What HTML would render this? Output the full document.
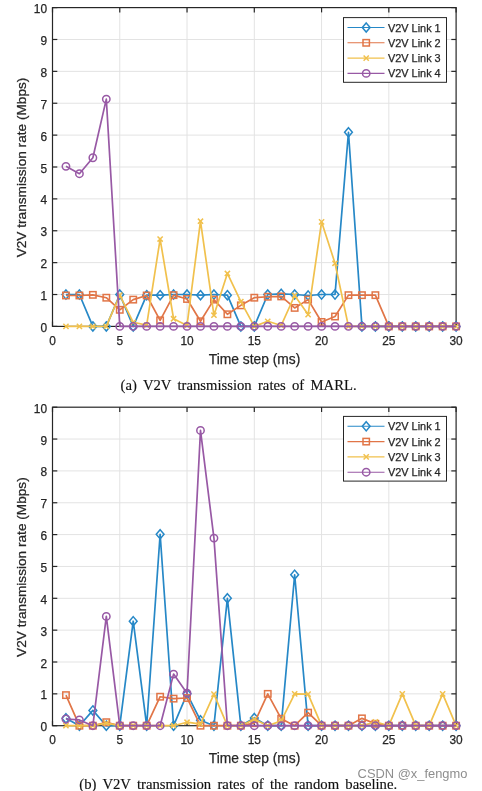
<!DOCTYPE html>
<html><head><meta charset="utf-8"><style>
html,body{margin:0;padding:0;background:#fff;width:482px;height:791px;overflow:hidden}
svg{position:absolute;left:0;top:0;filter:blur(0.3px)}
.t{font-family:"Liberation Sans",sans-serif;font-size:11.9px;fill:#262626;stroke:#262626;stroke-width:0.25px}
.lab{font-family:"Liberation Sans",sans-serif;font-size:13.8px;fill:#262626;stroke:#262626;stroke-width:0.25px}
.leg{font-family:"Liberation Sans",sans-serif;font-size:10.9px;fill:#262626;stroke:#262626;stroke-width:0.25px}
.cap{font-family:"Liberation Serif",serif;font-size:14.7px;fill:#111;stroke:#111;stroke-width:0.15px;word-spacing:2.6px}
.wm{font-family:"Liberation Sans",sans-serif;font-size:12.9px;fill:#8e8e8e;}
</style></head><body>
<svg width="482" height="791" viewBox="0 0 482 791">
<line x1="52.5" y1="294.52" x2="456.1" y2="294.52" stroke="#e3e3e3" stroke-width="1"/>
<line x1="52.5" y1="262.64" x2="456.1" y2="262.64" stroke="#e3e3e3" stroke-width="1"/>
<line x1="52.5" y1="230.76" x2="456.1" y2="230.76" stroke="#e3e3e3" stroke-width="1"/>
<line x1="52.5" y1="198.88" x2="456.1" y2="198.88" stroke="#e3e3e3" stroke-width="1"/>
<line x1="52.5" y1="167.00" x2="456.1" y2="167.00" stroke="#e3e3e3" stroke-width="1"/>
<line x1="52.5" y1="135.12" x2="456.1" y2="135.12" stroke="#e3e3e3" stroke-width="1"/>
<line x1="52.5" y1="103.24" x2="456.1" y2="103.24" stroke="#e3e3e3" stroke-width="1"/>
<line x1="52.5" y1="71.36" x2="456.1" y2="71.36" stroke="#e3e3e3" stroke-width="1"/>
<line x1="52.5" y1="39.48" x2="456.1" y2="39.48" stroke="#e3e3e3" stroke-width="1"/>
<line x1="119.77" y1="7.6" x2="119.77" y2="326.4" stroke="#e3e3e3" stroke-width="1"/>
<line x1="187.03" y1="7.6" x2="187.03" y2="326.4" stroke="#e3e3e3" stroke-width="1"/>
<line x1="254.30" y1="7.6" x2="254.30" y2="326.4" stroke="#e3e3e3" stroke-width="1"/>
<line x1="321.57" y1="7.6" x2="321.57" y2="326.4" stroke="#e3e3e3" stroke-width="1"/>
<line x1="388.83" y1="7.6" x2="388.83" y2="326.4" stroke="#e3e3e3" stroke-width="1"/>
<rect x="52.5" y="7.6" width="403.60" height="318.80" fill="none" stroke="#262626" stroke-width="1.2"/>
<line x1="52.5" y1="326.40" x2="57.3" y2="326.40" stroke="#262626" stroke-width="1.2"/>
<line x1="456.1" y1="326.40" x2="451.3" y2="326.40" stroke="#262626" stroke-width="1.2"/>
<line x1="52.5" y1="294.52" x2="57.3" y2="294.52" stroke="#262626" stroke-width="1.2"/>
<line x1="456.1" y1="294.52" x2="451.3" y2="294.52" stroke="#262626" stroke-width="1.2"/>
<line x1="52.5" y1="262.64" x2="57.3" y2="262.64" stroke="#262626" stroke-width="1.2"/>
<line x1="456.1" y1="262.64" x2="451.3" y2="262.64" stroke="#262626" stroke-width="1.2"/>
<line x1="52.5" y1="230.76" x2="57.3" y2="230.76" stroke="#262626" stroke-width="1.2"/>
<line x1="456.1" y1="230.76" x2="451.3" y2="230.76" stroke="#262626" stroke-width="1.2"/>
<line x1="52.5" y1="198.88" x2="57.3" y2="198.88" stroke="#262626" stroke-width="1.2"/>
<line x1="456.1" y1="198.88" x2="451.3" y2="198.88" stroke="#262626" stroke-width="1.2"/>
<line x1="52.5" y1="167.00" x2="57.3" y2="167.00" stroke="#262626" stroke-width="1.2"/>
<line x1="456.1" y1="167.00" x2="451.3" y2="167.00" stroke="#262626" stroke-width="1.2"/>
<line x1="52.5" y1="135.12" x2="57.3" y2="135.12" stroke="#262626" stroke-width="1.2"/>
<line x1="456.1" y1="135.12" x2="451.3" y2="135.12" stroke="#262626" stroke-width="1.2"/>
<line x1="52.5" y1="103.24" x2="57.3" y2="103.24" stroke="#262626" stroke-width="1.2"/>
<line x1="456.1" y1="103.24" x2="451.3" y2="103.24" stroke="#262626" stroke-width="1.2"/>
<line x1="52.5" y1="71.36" x2="57.3" y2="71.36" stroke="#262626" stroke-width="1.2"/>
<line x1="456.1" y1="71.36" x2="451.3" y2="71.36" stroke="#262626" stroke-width="1.2"/>
<line x1="52.5" y1="39.48" x2="57.3" y2="39.48" stroke="#262626" stroke-width="1.2"/>
<line x1="456.1" y1="39.48" x2="451.3" y2="39.48" stroke="#262626" stroke-width="1.2"/>
<line x1="52.5" y1="7.60" x2="57.3" y2="7.60" stroke="#262626" stroke-width="1.2"/>
<line x1="456.1" y1="7.60" x2="451.3" y2="7.60" stroke="#262626" stroke-width="1.2"/>
<line x1="52.50" y1="326.4" x2="52.50" y2="321.59999999999997" stroke="#262626" stroke-width="1.2"/>
<line x1="52.50" y1="7.6" x2="52.50" y2="12.399999999999999" stroke="#262626" stroke-width="1.2"/>
<line x1="119.77" y1="326.4" x2="119.77" y2="321.59999999999997" stroke="#262626" stroke-width="1.2"/>
<line x1="119.77" y1="7.6" x2="119.77" y2="12.399999999999999" stroke="#262626" stroke-width="1.2"/>
<line x1="187.03" y1="326.4" x2="187.03" y2="321.59999999999997" stroke="#262626" stroke-width="1.2"/>
<line x1="187.03" y1="7.6" x2="187.03" y2="12.399999999999999" stroke="#262626" stroke-width="1.2"/>
<line x1="254.30" y1="326.4" x2="254.30" y2="321.59999999999997" stroke="#262626" stroke-width="1.2"/>
<line x1="254.30" y1="7.6" x2="254.30" y2="12.399999999999999" stroke="#262626" stroke-width="1.2"/>
<line x1="321.57" y1="326.4" x2="321.57" y2="321.59999999999997" stroke="#262626" stroke-width="1.2"/>
<line x1="321.57" y1="7.6" x2="321.57" y2="12.399999999999999" stroke="#262626" stroke-width="1.2"/>
<line x1="388.83" y1="326.4" x2="388.83" y2="321.59999999999997" stroke="#262626" stroke-width="1.2"/>
<line x1="388.83" y1="7.6" x2="388.83" y2="12.399999999999999" stroke="#262626" stroke-width="1.2"/>
<line x1="456.10" y1="326.4" x2="456.10" y2="321.59999999999997" stroke="#262626" stroke-width="1.2"/>
<line x1="456.10" y1="7.6" x2="456.10" y2="12.399999999999999" stroke="#262626" stroke-width="1.2"/>
<polyline points="65.95,294.52 79.41,294.52 92.86,326.40 106.31,326.40 119.77,294.52 133.22,326.40 146.67,295.16 160.13,295.16 173.58,294.52 187.03,294.52 200.49,295.16 213.94,294.52 227.39,295.16 240.85,326.40 254.30,326.40 267.75,294.52 281.21,293.88 294.66,294.52 308.11,295.48 321.57,294.52 335.02,294.52 348.47,132.25 361.93,326.40 375.38,326.40 388.83,326.40 402.29,326.40 415.74,326.40 429.19,326.40 442.65,326.40 456.10,326.40" fill="none" stroke="#2688C7" stroke-width="1.7" stroke-linejoin="round"/>
<path d="M65.95 289.92L69.85 294.52L65.95 299.12L62.05 294.52Z" fill="none" stroke="#2688C7" stroke-width="1.5"/>
<path d="M79.41 289.92L83.31 294.52L79.41 299.12L75.51 294.52Z" fill="none" stroke="#2688C7" stroke-width="1.5"/>
<path d="M92.86 321.80L96.76 326.40L92.86 331.00L88.96 326.40Z" fill="none" stroke="#2688C7" stroke-width="1.5"/>
<path d="M106.31 321.80L110.21 326.40L106.31 331.00L102.41 326.40Z" fill="none" stroke="#2688C7" stroke-width="1.5"/>
<path d="M119.77 289.92L123.67 294.52L119.77 299.12L115.87 294.52Z" fill="none" stroke="#2688C7" stroke-width="1.5"/>
<path d="M133.22 321.80L137.12 326.40L133.22 331.00L129.32 326.40Z" fill="none" stroke="#2688C7" stroke-width="1.5"/>
<path d="M146.67 290.56L150.57 295.16L146.67 299.76L142.77 295.16Z" fill="none" stroke="#2688C7" stroke-width="1.5"/>
<path d="M160.13 290.56L164.03 295.16L160.13 299.76L156.23 295.16Z" fill="none" stroke="#2688C7" stroke-width="1.5"/>
<path d="M173.58 289.92L177.48 294.52L173.58 299.12L169.68 294.52Z" fill="none" stroke="#2688C7" stroke-width="1.5"/>
<path d="M187.03 289.92L190.93 294.52L187.03 299.12L183.13 294.52Z" fill="none" stroke="#2688C7" stroke-width="1.5"/>
<path d="M200.49 290.56L204.39 295.16L200.49 299.76L196.59 295.16Z" fill="none" stroke="#2688C7" stroke-width="1.5"/>
<path d="M213.94 289.92L217.84 294.52L213.94 299.12L210.04 294.52Z" fill="none" stroke="#2688C7" stroke-width="1.5"/>
<path d="M227.39 290.56L231.29 295.16L227.39 299.76L223.49 295.16Z" fill="none" stroke="#2688C7" stroke-width="1.5"/>
<path d="M240.85 321.80L244.75 326.40L240.85 331.00L236.95 326.40Z" fill="none" stroke="#2688C7" stroke-width="1.5"/>
<path d="M254.30 321.80L258.20 326.40L254.30 331.00L250.40 326.40Z" fill="none" stroke="#2688C7" stroke-width="1.5"/>
<path d="M267.75 289.92L271.65 294.52L267.75 299.12L263.85 294.52Z" fill="none" stroke="#2688C7" stroke-width="1.5"/>
<path d="M281.21 289.28L285.11 293.88L281.21 298.48L277.31 293.88Z" fill="none" stroke="#2688C7" stroke-width="1.5"/>
<path d="M294.66 289.92L298.56 294.52L294.66 299.12L290.76 294.52Z" fill="none" stroke="#2688C7" stroke-width="1.5"/>
<path d="M308.11 290.88L312.01 295.48L308.11 300.08L304.21 295.48Z" fill="none" stroke="#2688C7" stroke-width="1.5"/>
<path d="M321.57 289.92L325.47 294.52L321.57 299.12L317.67 294.52Z" fill="none" stroke="#2688C7" stroke-width="1.5"/>
<path d="M335.02 289.92L338.92 294.52L335.02 299.12L331.12 294.52Z" fill="none" stroke="#2688C7" stroke-width="1.5"/>
<path d="M348.47 127.65L352.37 132.25L348.47 136.85L344.57 132.25Z" fill="none" stroke="#2688C7" stroke-width="1.5"/>
<path d="M361.93 321.80L365.83 326.40L361.93 331.00L358.03 326.40Z" fill="none" stroke="#2688C7" stroke-width="1.5"/>
<path d="M375.38 321.80L379.28 326.40L375.38 331.00L371.48 326.40Z" fill="none" stroke="#2688C7" stroke-width="1.5"/>
<path d="M388.83 321.80L392.73 326.40L388.83 331.00L384.93 326.40Z" fill="none" stroke="#2688C7" stroke-width="1.5"/>
<path d="M402.29 321.80L406.19 326.40L402.29 331.00L398.39 326.40Z" fill="none" stroke="#2688C7" stroke-width="1.5"/>
<path d="M415.74 321.80L419.64 326.40L415.74 331.00L411.84 326.40Z" fill="none" stroke="#2688C7" stroke-width="1.5"/>
<path d="M429.19 321.80L433.09 326.40L429.19 331.00L425.29 326.40Z" fill="none" stroke="#2688C7" stroke-width="1.5"/>
<path d="M442.65 321.80L446.55 326.40L442.65 331.00L438.75 326.40Z" fill="none" stroke="#2688C7" stroke-width="1.5"/>
<path d="M456.10 321.80L460.00 326.40L456.10 331.00L452.20 326.40Z" fill="none" stroke="#2688C7" stroke-width="1.5"/>
<polyline points="65.95,295.48 79.41,295.48 92.86,294.84 106.31,297.71 119.77,309.82 133.22,299.62 146.67,295.48 160.13,320.34 173.58,295.16 187.03,298.98 200.49,321.30 213.94,299.62 227.39,314.29 240.85,305.36 254.30,297.71 267.75,296.75 281.21,296.43 294.66,307.91 308.11,299.62 321.57,321.94 335.02,316.52 348.47,295.16 361.93,295.16 375.38,295.16 388.83,326.40 402.29,326.40 415.74,326.40 429.19,326.40 442.65,326.40 456.10,326.40" fill="none" stroke="#E17547" stroke-width="1.7" stroke-linejoin="round"/>
<rect x="62.75" y="292.28" width="6.40" height="6.40" fill="none" stroke="#E17547" stroke-width="1.5"/>
<rect x="76.21" y="292.28" width="6.40" height="6.40" fill="none" stroke="#E17547" stroke-width="1.5"/>
<rect x="89.66" y="291.64" width="6.40" height="6.40" fill="none" stroke="#E17547" stroke-width="1.5"/>
<rect x="103.11" y="294.51" width="6.40" height="6.40" fill="none" stroke="#E17547" stroke-width="1.5"/>
<rect x="116.57" y="306.62" width="6.40" height="6.40" fill="none" stroke="#E17547" stroke-width="1.5"/>
<rect x="130.02" y="296.42" width="6.40" height="6.40" fill="none" stroke="#E17547" stroke-width="1.5"/>
<rect x="143.47" y="292.28" width="6.40" height="6.40" fill="none" stroke="#E17547" stroke-width="1.5"/>
<rect x="156.93" y="317.14" width="6.40" height="6.40" fill="none" stroke="#E17547" stroke-width="1.5"/>
<rect x="170.38" y="291.96" width="6.40" height="6.40" fill="none" stroke="#E17547" stroke-width="1.5"/>
<rect x="183.83" y="295.78" width="6.40" height="6.40" fill="none" stroke="#E17547" stroke-width="1.5"/>
<rect x="197.29" y="318.10" width="6.40" height="6.40" fill="none" stroke="#E17547" stroke-width="1.5"/>
<rect x="210.74" y="296.42" width="6.40" height="6.40" fill="none" stroke="#E17547" stroke-width="1.5"/>
<rect x="224.19" y="311.09" width="6.40" height="6.40" fill="none" stroke="#E17547" stroke-width="1.5"/>
<rect x="237.65" y="302.16" width="6.40" height="6.40" fill="none" stroke="#E17547" stroke-width="1.5"/>
<rect x="251.10" y="294.51" width="6.40" height="6.40" fill="none" stroke="#E17547" stroke-width="1.5"/>
<rect x="264.55" y="293.55" width="6.40" height="6.40" fill="none" stroke="#E17547" stroke-width="1.5"/>
<rect x="278.01" y="293.23" width="6.40" height="6.40" fill="none" stroke="#E17547" stroke-width="1.5"/>
<rect x="291.46" y="304.71" width="6.40" height="6.40" fill="none" stroke="#E17547" stroke-width="1.5"/>
<rect x="304.91" y="296.42" width="6.40" height="6.40" fill="none" stroke="#E17547" stroke-width="1.5"/>
<rect x="318.37" y="318.74" width="6.40" height="6.40" fill="none" stroke="#E17547" stroke-width="1.5"/>
<rect x="331.82" y="313.32" width="6.40" height="6.40" fill="none" stroke="#E17547" stroke-width="1.5"/>
<rect x="345.27" y="291.96" width="6.40" height="6.40" fill="none" stroke="#E17547" stroke-width="1.5"/>
<rect x="358.73" y="291.96" width="6.40" height="6.40" fill="none" stroke="#E17547" stroke-width="1.5"/>
<rect x="372.18" y="291.96" width="6.40" height="6.40" fill="none" stroke="#E17547" stroke-width="1.5"/>
<rect x="385.63" y="323.20" width="6.40" height="6.40" fill="none" stroke="#E17547" stroke-width="1.5"/>
<rect x="399.09" y="323.20" width="6.40" height="6.40" fill="none" stroke="#E17547" stroke-width="1.5"/>
<rect x="412.54" y="323.20" width="6.40" height="6.40" fill="none" stroke="#E17547" stroke-width="1.5"/>
<rect x="425.99" y="323.20" width="6.40" height="6.40" fill="none" stroke="#E17547" stroke-width="1.5"/>
<rect x="439.45" y="323.20" width="6.40" height="6.40" fill="none" stroke="#E17547" stroke-width="1.5"/>
<rect x="452.90" y="323.20" width="6.40" height="6.40" fill="none" stroke="#E17547" stroke-width="1.5"/>
<polyline points="65.95,326.40 79.41,326.40 92.86,326.40 106.31,326.40 119.77,295.16 133.22,322.26 146.67,325.12 160.13,239.05 173.58,318.75 187.03,325.44 200.49,221.20 213.94,315.24 227.39,273.48 240.85,301.53 254.30,326.40 267.75,321.30 281.21,325.44 294.66,295.48 308.11,314.60 321.57,221.83 335.02,263.28 348.47,326.40 361.93,326.40 375.38,326.40 388.83,326.40 402.29,326.40 415.74,326.40 429.19,326.40 442.65,326.40 456.10,326.40" fill="none" stroke="#F1C14D" stroke-width="1.7" stroke-linejoin="round"/>
<path d="M63.35 323.80L68.55 329.00M68.55 323.80L63.35 329.00" stroke="#F1C14D" stroke-width="1.5"/>
<path d="M76.81 323.80L82.01 329.00M82.01 323.80L76.81 329.00" stroke="#F1C14D" stroke-width="1.5"/>
<path d="M90.26 323.80L95.46 329.00M95.46 323.80L90.26 329.00" stroke="#F1C14D" stroke-width="1.5"/>
<path d="M103.71 323.80L108.91 329.00M108.91 323.80L103.71 329.00" stroke="#F1C14D" stroke-width="1.5"/>
<path d="M117.17 292.56L122.37 297.76M122.37 292.56L117.17 297.76" stroke="#F1C14D" stroke-width="1.5"/>
<path d="M130.62 319.66L135.82 324.86M135.82 319.66L130.62 324.86" stroke="#F1C14D" stroke-width="1.5"/>
<path d="M144.07 322.52L149.27 327.72M149.27 322.52L144.07 327.72" stroke="#F1C14D" stroke-width="1.5"/>
<path d="M157.53 236.45L162.73 241.65M162.73 236.45L157.53 241.65" stroke="#F1C14D" stroke-width="1.5"/>
<path d="M170.98 316.15L176.18 321.35M176.18 316.15L170.98 321.35" stroke="#F1C14D" stroke-width="1.5"/>
<path d="M184.43 322.84L189.63 328.04M189.63 322.84L184.43 328.04" stroke="#F1C14D" stroke-width="1.5"/>
<path d="M197.89 218.60L203.09 223.80M203.09 218.60L197.89 223.80" stroke="#F1C14D" stroke-width="1.5"/>
<path d="M211.34 312.64L216.54 317.84M216.54 312.64L211.34 317.84" stroke="#F1C14D" stroke-width="1.5"/>
<path d="M224.79 270.88L229.99 276.08M229.99 270.88L224.79 276.08" stroke="#F1C14D" stroke-width="1.5"/>
<path d="M238.25 298.93L243.45 304.13M243.45 298.93L238.25 304.13" stroke="#F1C14D" stroke-width="1.5"/>
<path d="M251.70 323.80L256.90 329.00M256.90 323.80L251.70 329.00" stroke="#F1C14D" stroke-width="1.5"/>
<path d="M265.15 318.70L270.35 323.90M270.35 318.70L265.15 323.90" stroke="#F1C14D" stroke-width="1.5"/>
<path d="M278.61 322.84L283.81 328.04M283.81 322.84L278.61 328.04" stroke="#F1C14D" stroke-width="1.5"/>
<path d="M292.06 292.88L297.26 298.08M297.26 292.88L292.06 298.08" stroke="#F1C14D" stroke-width="1.5"/>
<path d="M305.51 312.00L310.71 317.20M310.71 312.00L305.51 317.20" stroke="#F1C14D" stroke-width="1.5"/>
<path d="M318.97 219.23L324.17 224.43M324.17 219.23L318.97 224.43" stroke="#F1C14D" stroke-width="1.5"/>
<path d="M332.42 260.68L337.62 265.88M337.62 260.68L332.42 265.88" stroke="#F1C14D" stroke-width="1.5"/>
<path d="M345.87 323.80L351.07 329.00M351.07 323.80L345.87 329.00" stroke="#F1C14D" stroke-width="1.5"/>
<path d="M359.33 323.80L364.53 329.00M364.53 323.80L359.33 329.00" stroke="#F1C14D" stroke-width="1.5"/>
<path d="M372.78 323.80L377.98 329.00M377.98 323.80L372.78 329.00" stroke="#F1C14D" stroke-width="1.5"/>
<path d="M386.23 323.80L391.43 329.00M391.43 323.80L386.23 329.00" stroke="#F1C14D" stroke-width="1.5"/>
<path d="M399.69 323.80L404.89 329.00M404.89 323.80L399.69 329.00" stroke="#F1C14D" stroke-width="1.5"/>
<path d="M413.14 323.80L418.34 329.00M418.34 323.80L413.14 329.00" stroke="#F1C14D" stroke-width="1.5"/>
<path d="M426.59 323.80L431.79 329.00M431.79 323.80L426.59 329.00" stroke="#F1C14D" stroke-width="1.5"/>
<path d="M440.05 323.80L445.25 329.00M445.25 323.80L440.05 329.00" stroke="#F1C14D" stroke-width="1.5"/>
<path d="M453.50 323.80L458.70 329.00M458.70 323.80L453.50 329.00" stroke="#F1C14D" stroke-width="1.5"/>
<polyline points="65.95,166.36 79.41,173.69 92.86,157.75 106.31,99.10 119.77,326.40 133.22,326.40 146.67,326.40 160.13,326.40 173.58,326.40 187.03,326.40 200.49,326.40 213.94,326.40 227.39,326.40 240.85,326.40 254.30,326.40 267.75,326.40 281.21,326.40 294.66,326.40 308.11,326.40 321.57,326.40 335.02,326.40 348.47,326.40 361.93,326.40 375.38,326.40 388.83,326.40 402.29,326.40 415.74,326.40 429.19,326.40 442.65,326.40 456.10,326.40" fill="none" stroke="#9859A5" stroke-width="1.7" stroke-linejoin="round"/>
<circle cx="65.95" cy="166.36" r="3.7" fill="none" stroke="#9859A5" stroke-width="1.5"/>
<circle cx="79.41" cy="173.69" r="3.7" fill="none" stroke="#9859A5" stroke-width="1.5"/>
<circle cx="92.86" cy="157.75" r="3.7" fill="none" stroke="#9859A5" stroke-width="1.5"/>
<circle cx="106.31" cy="99.10" r="3.7" fill="none" stroke="#9859A5" stroke-width="1.5"/>
<circle cx="119.77" cy="326.40" r="3.7" fill="none" stroke="#9859A5" stroke-width="1.5"/>
<circle cx="133.22" cy="326.40" r="3.7" fill="none" stroke="#9859A5" stroke-width="1.5"/>
<circle cx="146.67" cy="326.40" r="3.7" fill="none" stroke="#9859A5" stroke-width="1.5"/>
<circle cx="160.13" cy="326.40" r="3.7" fill="none" stroke="#9859A5" stroke-width="1.5"/>
<circle cx="173.58" cy="326.40" r="3.7" fill="none" stroke="#9859A5" stroke-width="1.5"/>
<circle cx="187.03" cy="326.40" r="3.7" fill="none" stroke="#9859A5" stroke-width="1.5"/>
<circle cx="200.49" cy="326.40" r="3.7" fill="none" stroke="#9859A5" stroke-width="1.5"/>
<circle cx="213.94" cy="326.40" r="3.7" fill="none" stroke="#9859A5" stroke-width="1.5"/>
<circle cx="227.39" cy="326.40" r="3.7" fill="none" stroke="#9859A5" stroke-width="1.5"/>
<circle cx="240.85" cy="326.40" r="3.7" fill="none" stroke="#9859A5" stroke-width="1.5"/>
<circle cx="254.30" cy="326.40" r="3.7" fill="none" stroke="#9859A5" stroke-width="1.5"/>
<circle cx="267.75" cy="326.40" r="3.7" fill="none" stroke="#9859A5" stroke-width="1.5"/>
<circle cx="281.21" cy="326.40" r="3.7" fill="none" stroke="#9859A5" stroke-width="1.5"/>
<circle cx="294.66" cy="326.40" r="3.7" fill="none" stroke="#9859A5" stroke-width="1.5"/>
<circle cx="308.11" cy="326.40" r="3.7" fill="none" stroke="#9859A5" stroke-width="1.5"/>
<circle cx="321.57" cy="326.40" r="3.7" fill="none" stroke="#9859A5" stroke-width="1.5"/>
<circle cx="335.02" cy="326.40" r="3.7" fill="none" stroke="#9859A5" stroke-width="1.5"/>
<circle cx="348.47" cy="326.40" r="3.7" fill="none" stroke="#9859A5" stroke-width="1.5"/>
<circle cx="361.93" cy="326.40" r="3.7" fill="none" stroke="#9859A5" stroke-width="1.5"/>
<circle cx="375.38" cy="326.40" r="3.7" fill="none" stroke="#9859A5" stroke-width="1.5"/>
<circle cx="388.83" cy="326.40" r="3.7" fill="none" stroke="#9859A5" stroke-width="1.5"/>
<circle cx="402.29" cy="326.40" r="3.7" fill="none" stroke="#9859A5" stroke-width="1.5"/>
<circle cx="415.74" cy="326.40" r="3.7" fill="none" stroke="#9859A5" stroke-width="1.5"/>
<circle cx="429.19" cy="326.40" r="3.7" fill="none" stroke="#9859A5" stroke-width="1.5"/>
<circle cx="442.65" cy="326.40" r="3.7" fill="none" stroke="#9859A5" stroke-width="1.5"/>
<circle cx="456.10" cy="326.40" r="3.7" fill="none" stroke="#9859A5" stroke-width="1.5"/>
<text x="47.00" y="331.90" text-anchor="end" class="t">0</text>
<text x="47.00" y="300.02" text-anchor="end" class="t">1</text>
<text x="47.00" y="268.14" text-anchor="end" class="t">2</text>
<text x="47.00" y="236.26" text-anchor="end" class="t">3</text>
<text x="47.00" y="204.38" text-anchor="end" class="t">4</text>
<text x="47.00" y="172.50" text-anchor="end" class="t">5</text>
<text x="47.00" y="140.62" text-anchor="end" class="t">6</text>
<text x="47.00" y="108.74" text-anchor="end" class="t">7</text>
<text x="47.00" y="76.86" text-anchor="end" class="t">8</text>
<text x="47.00" y="44.98" text-anchor="end" class="t">9</text>
<text x="47.00" y="13.10" text-anchor="end" class="t">10</text>
<text x="52.50" y="345.10" text-anchor="middle" class="t">0</text>
<text x="119.77" y="345.10" text-anchor="middle" class="t">5</text>
<text x="187.03" y="345.10" text-anchor="middle" class="t">10</text>
<text x="254.30" y="345.10" text-anchor="middle" class="t">15</text>
<text x="321.57" y="345.10" text-anchor="middle" class="t">20</text>
<text x="388.83" y="345.10" text-anchor="middle" class="t">25</text>
<text x="456.10" y="345.10" text-anchor="middle" class="t">30</text>
<text x="254.6" y="363.70" text-anchor="middle" class="lab">Time step (ms)</text>
<text x="0" y="0" transform="translate(26.4 167.50) rotate(-90)" text-anchor="middle" class="lab" style="font-size:13.65px">V2V transmission rate (Mbps)</text>
<rect x="343.5" y="17.60" width="103" height="64.7" fill="#fff" stroke="#262626" stroke-width="1"/>
<line x1="347.5" y1="27.50" x2="384.5" y2="27.50" stroke="#2688C7" stroke-width="1.1"/>
<path d="M366.20 22.90L370.10 27.50L366.20 32.10L362.30 27.50Z" fill="none" stroke="#2688C7" stroke-width="1.5"/>
<text x="388" y="31.50" class="leg">V2V Link 1</text>
<line x1="347.5" y1="42.80" x2="384.5" y2="42.80" stroke="#E17547" stroke-width="1.1"/>
<rect x="363.00" y="39.60" width="6.40" height="6.40" fill="none" stroke="#E17547" stroke-width="1.5"/>
<text x="388" y="46.80" class="leg">V2V Link 2</text>
<line x1="347.5" y1="58.10" x2="384.5" y2="58.10" stroke="#F1C14D" stroke-width="1.1"/>
<path d="M363.60 55.50L368.80 60.70M368.80 55.50L363.60 60.70" stroke="#F1C14D" stroke-width="1.5"/>
<text x="388" y="62.10" class="leg">V2V Link 3</text>
<line x1="347.5" y1="73.40" x2="384.5" y2="73.40" stroke="#9859A5" stroke-width="1.1"/>
<circle cx="366.20" cy="73.40" r="3.7" fill="none" stroke="#9859A5" stroke-width="1.5"/>
<text x="388" y="77.40" class="leg">V2V Link 4</text>
<line x1="52.5" y1="693.85" x2="456.1" y2="693.85" stroke="#e3e3e3" stroke-width="1"/>
<line x1="52.5" y1="662.00" x2="456.1" y2="662.00" stroke="#e3e3e3" stroke-width="1"/>
<line x1="52.5" y1="630.15" x2="456.1" y2="630.15" stroke="#e3e3e3" stroke-width="1"/>
<line x1="52.5" y1="598.30" x2="456.1" y2="598.30" stroke="#e3e3e3" stroke-width="1"/>
<line x1="52.5" y1="566.45" x2="456.1" y2="566.45" stroke="#e3e3e3" stroke-width="1"/>
<line x1="52.5" y1="534.60" x2="456.1" y2="534.60" stroke="#e3e3e3" stroke-width="1"/>
<line x1="52.5" y1="502.75" x2="456.1" y2="502.75" stroke="#e3e3e3" stroke-width="1"/>
<line x1="52.5" y1="470.90" x2="456.1" y2="470.90" stroke="#e3e3e3" stroke-width="1"/>
<line x1="52.5" y1="439.05" x2="456.1" y2="439.05" stroke="#e3e3e3" stroke-width="1"/>
<line x1="119.77" y1="407.2" x2="119.77" y2="725.7" stroke="#e3e3e3" stroke-width="1"/>
<line x1="187.03" y1="407.2" x2="187.03" y2="725.7" stroke="#e3e3e3" stroke-width="1"/>
<line x1="254.30" y1="407.2" x2="254.30" y2="725.7" stroke="#e3e3e3" stroke-width="1"/>
<line x1="321.57" y1="407.2" x2="321.57" y2="725.7" stroke="#e3e3e3" stroke-width="1"/>
<line x1="388.83" y1="407.2" x2="388.83" y2="725.7" stroke="#e3e3e3" stroke-width="1"/>
<rect x="52.5" y="407.2" width="403.60" height="318.50" fill="none" stroke="#262626" stroke-width="1.2"/>
<line x1="52.5" y1="725.70" x2="57.3" y2="725.70" stroke="#262626" stroke-width="1.2"/>
<line x1="456.1" y1="725.70" x2="451.3" y2="725.70" stroke="#262626" stroke-width="1.2"/>
<line x1="52.5" y1="693.85" x2="57.3" y2="693.85" stroke="#262626" stroke-width="1.2"/>
<line x1="456.1" y1="693.85" x2="451.3" y2="693.85" stroke="#262626" stroke-width="1.2"/>
<line x1="52.5" y1="662.00" x2="57.3" y2="662.00" stroke="#262626" stroke-width="1.2"/>
<line x1="456.1" y1="662.00" x2="451.3" y2="662.00" stroke="#262626" stroke-width="1.2"/>
<line x1="52.5" y1="630.15" x2="57.3" y2="630.15" stroke="#262626" stroke-width="1.2"/>
<line x1="456.1" y1="630.15" x2="451.3" y2="630.15" stroke="#262626" stroke-width="1.2"/>
<line x1="52.5" y1="598.30" x2="57.3" y2="598.30" stroke="#262626" stroke-width="1.2"/>
<line x1="456.1" y1="598.30" x2="451.3" y2="598.30" stroke="#262626" stroke-width="1.2"/>
<line x1="52.5" y1="566.45" x2="57.3" y2="566.45" stroke="#262626" stroke-width="1.2"/>
<line x1="456.1" y1="566.45" x2="451.3" y2="566.45" stroke="#262626" stroke-width="1.2"/>
<line x1="52.5" y1="534.60" x2="57.3" y2="534.60" stroke="#262626" stroke-width="1.2"/>
<line x1="456.1" y1="534.60" x2="451.3" y2="534.60" stroke="#262626" stroke-width="1.2"/>
<line x1="52.5" y1="502.75" x2="57.3" y2="502.75" stroke="#262626" stroke-width="1.2"/>
<line x1="456.1" y1="502.75" x2="451.3" y2="502.75" stroke="#262626" stroke-width="1.2"/>
<line x1="52.5" y1="470.90" x2="57.3" y2="470.90" stroke="#262626" stroke-width="1.2"/>
<line x1="456.1" y1="470.90" x2="451.3" y2="470.90" stroke="#262626" stroke-width="1.2"/>
<line x1="52.5" y1="439.05" x2="57.3" y2="439.05" stroke="#262626" stroke-width="1.2"/>
<line x1="456.1" y1="439.05" x2="451.3" y2="439.05" stroke="#262626" stroke-width="1.2"/>
<line x1="52.5" y1="407.20" x2="57.3" y2="407.20" stroke="#262626" stroke-width="1.2"/>
<line x1="456.1" y1="407.20" x2="451.3" y2="407.20" stroke="#262626" stroke-width="1.2"/>
<line x1="52.50" y1="725.7" x2="52.50" y2="720.9000000000001" stroke="#262626" stroke-width="1.2"/>
<line x1="52.50" y1="407.2" x2="52.50" y2="412.0" stroke="#262626" stroke-width="1.2"/>
<line x1="119.77" y1="725.7" x2="119.77" y2="720.9000000000001" stroke="#262626" stroke-width="1.2"/>
<line x1="119.77" y1="407.2" x2="119.77" y2="412.0" stroke="#262626" stroke-width="1.2"/>
<line x1="187.03" y1="725.7" x2="187.03" y2="720.9000000000001" stroke="#262626" stroke-width="1.2"/>
<line x1="187.03" y1="407.2" x2="187.03" y2="412.0" stroke="#262626" stroke-width="1.2"/>
<line x1="254.30" y1="725.7" x2="254.30" y2="720.9000000000001" stroke="#262626" stroke-width="1.2"/>
<line x1="254.30" y1="407.2" x2="254.30" y2="412.0" stroke="#262626" stroke-width="1.2"/>
<line x1="321.57" y1="725.7" x2="321.57" y2="720.9000000000001" stroke="#262626" stroke-width="1.2"/>
<line x1="321.57" y1="407.2" x2="321.57" y2="412.0" stroke="#262626" stroke-width="1.2"/>
<line x1="388.83" y1="725.7" x2="388.83" y2="720.9000000000001" stroke="#262626" stroke-width="1.2"/>
<line x1="388.83" y1="407.2" x2="388.83" y2="412.0" stroke="#262626" stroke-width="1.2"/>
<line x1="456.10" y1="725.7" x2="456.10" y2="720.9000000000001" stroke="#262626" stroke-width="1.2"/>
<line x1="456.10" y1="407.2" x2="456.10" y2="412.0" stroke="#262626" stroke-width="1.2"/>
<polyline points="65.95,718.37 79.41,725.70 92.86,710.41 106.31,725.70 119.77,725.70 133.22,621.23 146.67,725.70 160.13,534.28 173.58,725.70 187.03,693.85 200.49,720.29 213.94,725.70 227.39,598.30 240.85,725.70 254.30,718.06 267.75,725.70 281.21,725.70 294.66,574.73 308.11,725.70 321.57,725.70 335.02,725.70 348.47,725.70 361.93,725.70 375.38,725.70 388.83,725.70 402.29,725.70 415.74,725.70 429.19,725.70 442.65,725.70 456.10,725.70" fill="none" stroke="#2688C7" stroke-width="1.7" stroke-linejoin="round"/>
<path d="M65.95 713.77L69.85 718.37L65.95 722.97L62.05 718.37Z" fill="none" stroke="#2688C7" stroke-width="1.5"/>
<path d="M79.41 721.10L83.31 725.70L79.41 730.30L75.51 725.70Z" fill="none" stroke="#2688C7" stroke-width="1.5"/>
<path d="M92.86 705.81L96.76 710.41L92.86 715.01L88.96 710.41Z" fill="none" stroke="#2688C7" stroke-width="1.5"/>
<path d="M106.31 721.10L110.21 725.70L106.31 730.30L102.41 725.70Z" fill="none" stroke="#2688C7" stroke-width="1.5"/>
<path d="M119.77 721.10L123.67 725.70L119.77 730.30L115.87 725.70Z" fill="none" stroke="#2688C7" stroke-width="1.5"/>
<path d="M133.22 616.63L137.12 621.23L133.22 625.83L129.32 621.23Z" fill="none" stroke="#2688C7" stroke-width="1.5"/>
<path d="M146.67 721.10L150.57 725.70L146.67 730.30L142.77 725.70Z" fill="none" stroke="#2688C7" stroke-width="1.5"/>
<path d="M160.13 529.68L164.03 534.28L160.13 538.88L156.23 534.28Z" fill="none" stroke="#2688C7" stroke-width="1.5"/>
<path d="M173.58 721.10L177.48 725.70L173.58 730.30L169.68 725.70Z" fill="none" stroke="#2688C7" stroke-width="1.5"/>
<path d="M187.03 689.25L190.93 693.85L187.03 698.45L183.13 693.85Z" fill="none" stroke="#2688C7" stroke-width="1.5"/>
<path d="M200.49 715.69L204.39 720.29L200.49 724.89L196.59 720.29Z" fill="none" stroke="#2688C7" stroke-width="1.5"/>
<path d="M213.94 721.10L217.84 725.70L213.94 730.30L210.04 725.70Z" fill="none" stroke="#2688C7" stroke-width="1.5"/>
<path d="M227.39 593.70L231.29 598.30L227.39 602.90L223.49 598.30Z" fill="none" stroke="#2688C7" stroke-width="1.5"/>
<path d="M240.85 721.10L244.75 725.70L240.85 730.30L236.95 725.70Z" fill="none" stroke="#2688C7" stroke-width="1.5"/>
<path d="M254.30 713.46L258.20 718.06L254.30 722.66L250.40 718.06Z" fill="none" stroke="#2688C7" stroke-width="1.5"/>
<path d="M267.75 721.10L271.65 725.70L267.75 730.30L263.85 725.70Z" fill="none" stroke="#2688C7" stroke-width="1.5"/>
<path d="M281.21 721.10L285.11 725.70L281.21 730.30L277.31 725.70Z" fill="none" stroke="#2688C7" stroke-width="1.5"/>
<path d="M294.66 570.13L298.56 574.73L294.66 579.33L290.76 574.73Z" fill="none" stroke="#2688C7" stroke-width="1.5"/>
<path d="M308.11 721.10L312.01 725.70L308.11 730.30L304.21 725.70Z" fill="none" stroke="#2688C7" stroke-width="1.5"/>
<path d="M321.57 721.10L325.47 725.70L321.57 730.30L317.67 725.70Z" fill="none" stroke="#2688C7" stroke-width="1.5"/>
<path d="M335.02 721.10L338.92 725.70L335.02 730.30L331.12 725.70Z" fill="none" stroke="#2688C7" stroke-width="1.5"/>
<path d="M348.47 721.10L352.37 725.70L348.47 730.30L344.57 725.70Z" fill="none" stroke="#2688C7" stroke-width="1.5"/>
<path d="M361.93 721.10L365.83 725.70L361.93 730.30L358.03 725.70Z" fill="none" stroke="#2688C7" stroke-width="1.5"/>
<path d="M375.38 721.10L379.28 725.70L375.38 730.30L371.48 725.70Z" fill="none" stroke="#2688C7" stroke-width="1.5"/>
<path d="M388.83 721.10L392.73 725.70L388.83 730.30L384.93 725.70Z" fill="none" stroke="#2688C7" stroke-width="1.5"/>
<path d="M402.29 721.10L406.19 725.70L402.29 730.30L398.39 725.70Z" fill="none" stroke="#2688C7" stroke-width="1.5"/>
<path d="M415.74 721.10L419.64 725.70L415.74 730.30L411.84 725.70Z" fill="none" stroke="#2688C7" stroke-width="1.5"/>
<path d="M429.19 721.10L433.09 725.70L429.19 730.30L425.29 725.70Z" fill="none" stroke="#2688C7" stroke-width="1.5"/>
<path d="M442.65 721.10L446.55 725.70L442.65 730.30L438.75 725.70Z" fill="none" stroke="#2688C7" stroke-width="1.5"/>
<path d="M456.10 721.10L460.00 725.70L456.10 730.30L452.20 725.70Z" fill="none" stroke="#2688C7" stroke-width="1.5"/>
<polyline points="65.95,695.12 79.41,725.70 92.86,725.70 106.31,722.20 119.77,725.70 133.22,725.70 146.67,725.70 160.13,696.72 173.58,698.63 187.03,697.99 200.49,725.70 213.94,725.70 227.39,725.70 240.85,725.70 254.30,723.15 267.75,693.85 281.21,718.69 294.66,725.70 308.11,712.64 321.57,725.70 335.02,725.70 348.47,725.70 361.93,718.37 375.38,723.79 388.83,725.70 402.29,725.70 415.74,725.70 429.19,725.70 442.65,725.70 456.10,725.70" fill="none" stroke="#E17547" stroke-width="1.7" stroke-linejoin="round"/>
<rect x="62.75" y="691.92" width="6.40" height="6.40" fill="none" stroke="#E17547" stroke-width="1.5"/>
<rect x="76.21" y="722.50" width="6.40" height="6.40" fill="none" stroke="#E17547" stroke-width="1.5"/>
<rect x="89.66" y="722.50" width="6.40" height="6.40" fill="none" stroke="#E17547" stroke-width="1.5"/>
<rect x="103.11" y="719.00" width="6.40" height="6.40" fill="none" stroke="#E17547" stroke-width="1.5"/>
<rect x="116.57" y="722.50" width="6.40" height="6.40" fill="none" stroke="#E17547" stroke-width="1.5"/>
<rect x="130.02" y="722.50" width="6.40" height="6.40" fill="none" stroke="#E17547" stroke-width="1.5"/>
<rect x="143.47" y="722.50" width="6.40" height="6.40" fill="none" stroke="#E17547" stroke-width="1.5"/>
<rect x="156.93" y="693.52" width="6.40" height="6.40" fill="none" stroke="#E17547" stroke-width="1.5"/>
<rect x="170.38" y="695.43" width="6.40" height="6.40" fill="none" stroke="#E17547" stroke-width="1.5"/>
<rect x="183.83" y="694.79" width="6.40" height="6.40" fill="none" stroke="#E17547" stroke-width="1.5"/>
<rect x="197.29" y="722.50" width="6.40" height="6.40" fill="none" stroke="#E17547" stroke-width="1.5"/>
<rect x="210.74" y="722.50" width="6.40" height="6.40" fill="none" stroke="#E17547" stroke-width="1.5"/>
<rect x="224.19" y="722.50" width="6.40" height="6.40" fill="none" stroke="#E17547" stroke-width="1.5"/>
<rect x="237.65" y="722.50" width="6.40" height="6.40" fill="none" stroke="#E17547" stroke-width="1.5"/>
<rect x="251.10" y="719.95" width="6.40" height="6.40" fill="none" stroke="#E17547" stroke-width="1.5"/>
<rect x="264.55" y="690.65" width="6.40" height="6.40" fill="none" stroke="#E17547" stroke-width="1.5"/>
<rect x="278.01" y="715.49" width="6.40" height="6.40" fill="none" stroke="#E17547" stroke-width="1.5"/>
<rect x="291.46" y="722.50" width="6.40" height="6.40" fill="none" stroke="#E17547" stroke-width="1.5"/>
<rect x="304.91" y="709.44" width="6.40" height="6.40" fill="none" stroke="#E17547" stroke-width="1.5"/>
<rect x="318.37" y="722.50" width="6.40" height="6.40" fill="none" stroke="#E17547" stroke-width="1.5"/>
<rect x="331.82" y="722.50" width="6.40" height="6.40" fill="none" stroke="#E17547" stroke-width="1.5"/>
<rect x="345.27" y="722.50" width="6.40" height="6.40" fill="none" stroke="#E17547" stroke-width="1.5"/>
<rect x="358.73" y="715.17" width="6.40" height="6.40" fill="none" stroke="#E17547" stroke-width="1.5"/>
<rect x="372.18" y="720.59" width="6.40" height="6.40" fill="none" stroke="#E17547" stroke-width="1.5"/>
<rect x="385.63" y="722.50" width="6.40" height="6.40" fill="none" stroke="#E17547" stroke-width="1.5"/>
<rect x="399.09" y="722.50" width="6.40" height="6.40" fill="none" stroke="#E17547" stroke-width="1.5"/>
<rect x="412.54" y="722.50" width="6.40" height="6.40" fill="none" stroke="#E17547" stroke-width="1.5"/>
<rect x="425.99" y="722.50" width="6.40" height="6.40" fill="none" stroke="#E17547" stroke-width="1.5"/>
<rect x="439.45" y="722.50" width="6.40" height="6.40" fill="none" stroke="#E17547" stroke-width="1.5"/>
<rect x="452.90" y="722.50" width="6.40" height="6.40" fill="none" stroke="#E17547" stroke-width="1.5"/>
<polyline points="65.95,725.70 79.41,725.70 92.86,725.70 106.31,723.15 119.77,725.70 133.22,725.70 146.67,725.70 160.13,725.70 173.58,725.70 187.03,722.20 200.49,724.11 213.94,694.17 227.39,725.70 240.85,725.70 254.30,719.33 267.75,725.70 281.21,720.92 294.66,693.85 308.11,694.17 321.57,725.70 335.02,725.70 348.47,725.70 361.93,725.70 375.38,721.88 388.83,725.70 402.29,693.85 415.74,725.70 429.19,725.70 442.65,693.85 456.10,725.70" fill="none" stroke="#F1C14D" stroke-width="1.7" stroke-linejoin="round"/>
<path d="M63.35 723.10L68.55 728.30M68.55 723.10L63.35 728.30" stroke="#F1C14D" stroke-width="1.5"/>
<path d="M76.81 723.10L82.01 728.30M82.01 723.10L76.81 728.30" stroke="#F1C14D" stroke-width="1.5"/>
<path d="M90.26 723.10L95.46 728.30M95.46 723.10L90.26 728.30" stroke="#F1C14D" stroke-width="1.5"/>
<path d="M103.71 720.55L108.91 725.75M108.91 720.55L103.71 725.75" stroke="#F1C14D" stroke-width="1.5"/>
<path d="M117.17 723.10L122.37 728.30M122.37 723.10L117.17 728.30" stroke="#F1C14D" stroke-width="1.5"/>
<path d="M130.62 723.10L135.82 728.30M135.82 723.10L130.62 728.30" stroke="#F1C14D" stroke-width="1.5"/>
<path d="M144.07 723.10L149.27 728.30M149.27 723.10L144.07 728.30" stroke="#F1C14D" stroke-width="1.5"/>
<path d="M157.53 723.10L162.73 728.30M162.73 723.10L157.53 728.30" stroke="#F1C14D" stroke-width="1.5"/>
<path d="M170.98 723.10L176.18 728.30M176.18 723.10L170.98 728.30" stroke="#F1C14D" stroke-width="1.5"/>
<path d="M184.43 719.60L189.63 724.80M189.63 719.60L184.43 724.80" stroke="#F1C14D" stroke-width="1.5"/>
<path d="M197.89 721.51L203.09 726.71M203.09 721.51L197.89 726.71" stroke="#F1C14D" stroke-width="1.5"/>
<path d="M211.34 691.57L216.54 696.77M216.54 691.57L211.34 696.77" stroke="#F1C14D" stroke-width="1.5"/>
<path d="M224.79 723.10L229.99 728.30M229.99 723.10L224.79 728.30" stroke="#F1C14D" stroke-width="1.5"/>
<path d="M238.25 723.10L243.45 728.30M243.45 723.10L238.25 728.30" stroke="#F1C14D" stroke-width="1.5"/>
<path d="M251.70 716.73L256.90 721.93M256.90 716.73L251.70 721.93" stroke="#F1C14D" stroke-width="1.5"/>
<path d="M265.15 723.10L270.35 728.30M270.35 723.10L265.15 728.30" stroke="#F1C14D" stroke-width="1.5"/>
<path d="M278.61 718.32L283.81 723.52M283.81 718.32L278.61 723.52" stroke="#F1C14D" stroke-width="1.5"/>
<path d="M292.06 691.25L297.26 696.45M297.26 691.25L292.06 696.45" stroke="#F1C14D" stroke-width="1.5"/>
<path d="M305.51 691.57L310.71 696.77M310.71 691.57L305.51 696.77" stroke="#F1C14D" stroke-width="1.5"/>
<path d="M318.97 723.10L324.17 728.30M324.17 723.10L318.97 728.30" stroke="#F1C14D" stroke-width="1.5"/>
<path d="M332.42 723.10L337.62 728.30M337.62 723.10L332.42 728.30" stroke="#F1C14D" stroke-width="1.5"/>
<path d="M345.87 723.10L351.07 728.30M351.07 723.10L345.87 728.30" stroke="#F1C14D" stroke-width="1.5"/>
<path d="M359.33 723.10L364.53 728.30M364.53 723.10L359.33 728.30" stroke="#F1C14D" stroke-width="1.5"/>
<path d="M372.78 719.28L377.98 724.48M377.98 719.28L372.78 724.48" stroke="#F1C14D" stroke-width="1.5"/>
<path d="M386.23 723.10L391.43 728.30M391.43 723.10L386.23 728.30" stroke="#F1C14D" stroke-width="1.5"/>
<path d="M399.69 691.25L404.89 696.45M404.89 691.25L399.69 696.45" stroke="#F1C14D" stroke-width="1.5"/>
<path d="M413.14 723.10L418.34 728.30M418.34 723.10L413.14 728.30" stroke="#F1C14D" stroke-width="1.5"/>
<path d="M426.59 723.10L431.79 728.30M431.79 723.10L426.59 728.30" stroke="#F1C14D" stroke-width="1.5"/>
<path d="M440.05 691.25L445.25 696.45M445.25 691.25L440.05 696.45" stroke="#F1C14D" stroke-width="1.5"/>
<path d="M453.50 723.10L458.70 728.30M458.70 723.10L453.50 728.30" stroke="#F1C14D" stroke-width="1.5"/>
<polyline points="65.95,719.01 79.41,719.97 92.86,725.70 106.31,616.45 119.77,725.70 133.22,725.70 146.67,725.70 160.13,725.70 173.58,674.10 187.03,693.21 200.49,430.45 213.94,538.10 227.39,725.70 240.85,725.70 254.30,725.70 267.75,725.70 281.21,725.70 294.66,725.70 308.11,725.70 321.57,725.70 335.02,725.70 348.47,725.70 361.93,725.70 375.38,725.70 388.83,725.70 402.29,725.70 415.74,725.70 429.19,725.70 442.65,725.70 456.10,725.70" fill="none" stroke="#9859A5" stroke-width="1.7" stroke-linejoin="round"/>
<circle cx="65.95" cy="719.01" r="3.7" fill="none" stroke="#9859A5" stroke-width="1.5"/>
<circle cx="79.41" cy="719.97" r="3.7" fill="none" stroke="#9859A5" stroke-width="1.5"/>
<circle cx="92.86" cy="725.70" r="3.7" fill="none" stroke="#9859A5" stroke-width="1.5"/>
<circle cx="106.31" cy="616.45" r="3.7" fill="none" stroke="#9859A5" stroke-width="1.5"/>
<circle cx="119.77" cy="725.70" r="3.7" fill="none" stroke="#9859A5" stroke-width="1.5"/>
<circle cx="133.22" cy="725.70" r="3.7" fill="none" stroke="#9859A5" stroke-width="1.5"/>
<circle cx="146.67" cy="725.70" r="3.7" fill="none" stroke="#9859A5" stroke-width="1.5"/>
<circle cx="160.13" cy="725.70" r="3.7" fill="none" stroke="#9859A5" stroke-width="1.5"/>
<circle cx="173.58" cy="674.10" r="3.7" fill="none" stroke="#9859A5" stroke-width="1.5"/>
<circle cx="187.03" cy="693.21" r="3.7" fill="none" stroke="#9859A5" stroke-width="1.5"/>
<circle cx="200.49" cy="430.45" r="3.7" fill="none" stroke="#9859A5" stroke-width="1.5"/>
<circle cx="213.94" cy="538.10" r="3.7" fill="none" stroke="#9859A5" stroke-width="1.5"/>
<circle cx="227.39" cy="725.70" r="3.7" fill="none" stroke="#9859A5" stroke-width="1.5"/>
<circle cx="240.85" cy="725.70" r="3.7" fill="none" stroke="#9859A5" stroke-width="1.5"/>
<circle cx="254.30" cy="725.70" r="3.7" fill="none" stroke="#9859A5" stroke-width="1.5"/>
<circle cx="267.75" cy="725.70" r="3.7" fill="none" stroke="#9859A5" stroke-width="1.5"/>
<circle cx="281.21" cy="725.70" r="3.7" fill="none" stroke="#9859A5" stroke-width="1.5"/>
<circle cx="294.66" cy="725.70" r="3.7" fill="none" stroke="#9859A5" stroke-width="1.5"/>
<circle cx="308.11" cy="725.70" r="3.7" fill="none" stroke="#9859A5" stroke-width="1.5"/>
<circle cx="321.57" cy="725.70" r="3.7" fill="none" stroke="#9859A5" stroke-width="1.5"/>
<circle cx="335.02" cy="725.70" r="3.7" fill="none" stroke="#9859A5" stroke-width="1.5"/>
<circle cx="348.47" cy="725.70" r="3.7" fill="none" stroke="#9859A5" stroke-width="1.5"/>
<circle cx="361.93" cy="725.70" r="3.7" fill="none" stroke="#9859A5" stroke-width="1.5"/>
<circle cx="375.38" cy="725.70" r="3.7" fill="none" stroke="#9859A5" stroke-width="1.5"/>
<circle cx="388.83" cy="725.70" r="3.7" fill="none" stroke="#9859A5" stroke-width="1.5"/>
<circle cx="402.29" cy="725.70" r="3.7" fill="none" stroke="#9859A5" stroke-width="1.5"/>
<circle cx="415.74" cy="725.70" r="3.7" fill="none" stroke="#9859A5" stroke-width="1.5"/>
<circle cx="429.19" cy="725.70" r="3.7" fill="none" stroke="#9859A5" stroke-width="1.5"/>
<circle cx="442.65" cy="725.70" r="3.7" fill="none" stroke="#9859A5" stroke-width="1.5"/>
<circle cx="456.10" cy="725.70" r="3.7" fill="none" stroke="#9859A5" stroke-width="1.5"/>
<text x="47.00" y="731.20" text-anchor="end" class="t">0</text>
<text x="47.00" y="699.35" text-anchor="end" class="t">1</text>
<text x="47.00" y="667.50" text-anchor="end" class="t">2</text>
<text x="47.00" y="635.65" text-anchor="end" class="t">3</text>
<text x="47.00" y="603.80" text-anchor="end" class="t">4</text>
<text x="47.00" y="571.95" text-anchor="end" class="t">5</text>
<text x="47.00" y="540.10" text-anchor="end" class="t">6</text>
<text x="47.00" y="508.25" text-anchor="end" class="t">7</text>
<text x="47.00" y="476.40" text-anchor="end" class="t">8</text>
<text x="47.00" y="444.55" text-anchor="end" class="t">9</text>
<text x="47.00" y="412.70" text-anchor="end" class="t">10</text>
<text x="52.50" y="744.40" text-anchor="middle" class="t">0</text>
<text x="119.77" y="744.40" text-anchor="middle" class="t">5</text>
<text x="187.03" y="744.40" text-anchor="middle" class="t">10</text>
<text x="254.30" y="744.40" text-anchor="middle" class="t">15</text>
<text x="321.57" y="744.40" text-anchor="middle" class="t">20</text>
<text x="388.83" y="744.40" text-anchor="middle" class="t">25</text>
<text x="456.10" y="744.40" text-anchor="middle" class="t">30</text>
<text x="254.6" y="763.00" text-anchor="middle" class="lab">Time step (ms)</text>
<text x="0" y="0" transform="translate(26.4 567.10) rotate(-90)" text-anchor="middle" class="lab" style="font-size:13.65px">V2V transmission rate (Mbps)</text>
<rect x="343.5" y="416.40" width="103" height="64.7" fill="#fff" stroke="#262626" stroke-width="1"/>
<line x1="347.5" y1="426.30" x2="384.5" y2="426.30" stroke="#2688C7" stroke-width="1.1"/>
<path d="M366.20 421.70L370.10 426.30L366.20 430.90L362.30 426.30Z" fill="none" stroke="#2688C7" stroke-width="1.5"/>
<text x="388" y="430.30" class="leg">V2V Link 1</text>
<line x1="347.5" y1="441.60" x2="384.5" y2="441.60" stroke="#E17547" stroke-width="1.1"/>
<rect x="363.00" y="438.40" width="6.40" height="6.40" fill="none" stroke="#E17547" stroke-width="1.5"/>
<text x="388" y="445.60" class="leg">V2V Link 2</text>
<line x1="347.5" y1="456.90" x2="384.5" y2="456.90" stroke="#F1C14D" stroke-width="1.1"/>
<path d="M363.60 454.30L368.80 459.50M368.80 454.30L363.60 459.50" stroke="#F1C14D" stroke-width="1.5"/>
<text x="388" y="460.90" class="leg">V2V Link 3</text>
<line x1="347.5" y1="472.20" x2="384.5" y2="472.20" stroke="#9859A5" stroke-width="1.1"/>
<circle cx="366.20" cy="472.20" r="3.7" fill="none" stroke="#9859A5" stroke-width="1.5"/>
<text x="388" y="476.20" class="leg">V2V Link 4</text>
<text x="238.6" y="389.8" text-anchor="middle" class="cap">(a) V2V transmission rates of MARL.</text>
<text x="238.2" y="788.7" text-anchor="middle" class="cap">(b) V2V transmission rates of the random baseline.</text>
<text x="357.6" y="778.0" class="wm">CSDN @x_fengmo</text>
</svg>
</body></html>
